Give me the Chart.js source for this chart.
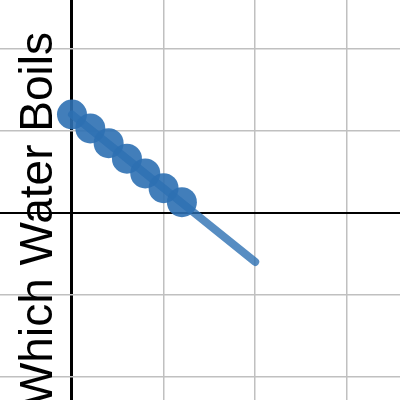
<!DOCTYPE html>
<html>
<head>
<meta charset="utf-8">
<script src="https://cdn.jsdelivr.net/npm/chart.js@4"></script>
<style>
html,body{margin:0;padding:0;background:#fff;}
#wrap{width:400px;height:400px;position:relative;}
</style>
</head>
<body>
<div id="wrap"><canvas id="c" width="400" height="400"></canvas></div>
<script>
// Data (grid units)
const pointX = [0, 0.2, 0.4, 0.6, 0.8, 1.0, 1.2];
const pointY = [1.2, 1.03, 0.85, 0.66, 0.48, 0.30, 0.13];
const lineX = [0, 2.0];
const lineY = [1.2, -0.6];
const axisLabel = "Which Water Boils";

const xMin = -0.786, xMax = 3.581;
const yMin = -2.286, yMax = 2.598;

const labelPlugin = {
  id: 'axisLabel',
  afterDraw(chart) {
    const ctx = chart.ctx;
    ctx.save();
    ctx.translate(52, 32);
    ctx.rotate(-Math.PI / 2);
    ctx.font = "46px 'Liberation Sans', Arial, sans-serif";
    ctx.fillStyle = '#000';
    ctx.textAlign = 'right';
    ctx.textBaseline = 'alphabetic';
    ctx.fillText(axisLabel, 0, 0);
    ctx.restore();
  }
};

new Chart(document.getElementById('c'), {
  type: 'scatter',
  data: {
    datasets: [
      {
        data: pointX.map((x, i) => ({x, y: pointY[i]})),
        pointRadius: 15,
        pointHoverRadius: 15,
        pointBackgroundColor: 'rgba(45,112,179,0.9)',
        pointBorderWidth: 0,
        borderWidth: 0,
        showLine: false,
        order: 0
      },
      {
        data: lineX.map((x, i) => ({x, y: lineY[i]})),
        showLine: true,
        pointRadius: 0,
        borderColor: 'rgba(45,112,179,0.8)',
        borderWidth: 8,
        borderCapStyle: 'round',
        order: 1
      }
    ]
  },
  options: {
    responsive: false,
    animation: false,
    devicePixelRatio: 1,
    layout: { padding: 0, autoPadding: false },
    plugins: { legend: { display: false }, tooltip: { enabled: false }, title: { display: false } },
    scales: {
      x: {
        type: 'linear', min: xMin, max: xMax,
        ticks: { display: false, stepSize: 1, includeBounds: false },
        border: { display: false },
        grid: {
          drawTicks: false,
          color: c => c.tick && c.tick.value === 0 ? '#000' : '#c0c0c0',
          lineWidth: c => c.tick && c.tick.value === 0 ? 3 : 1.5
        }
      },
      y: {
        type: 'linear', min: yMin, max: yMax,
        ticks: { display: false, stepSize: 1, includeBounds: false },
        border: { display: false },
        grid: {
          drawTicks: false,
          color: c => c.tick && c.tick.value === 0 ? '#000' : '#c0c0c0',
          lineWidth: c => c.tick && c.tick.value === 0 ? 2 : 1.5
        }
      }
    }
  },
  plugins: [labelPlugin]
});
</script>
</body>
</html>
